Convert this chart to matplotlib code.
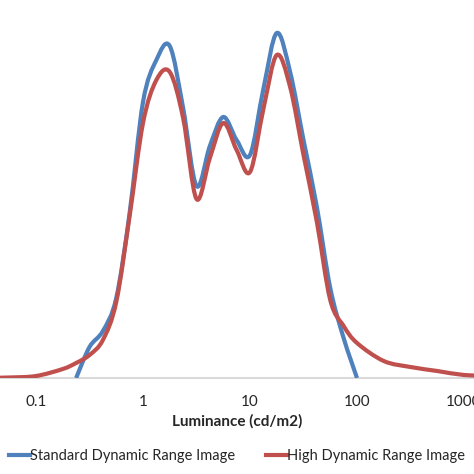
import numpy as np
import matplotlib
matplotlib.use("Agg")
import matplotlib.pyplot as plt
from matplotlib.path import Path
from matplotlib.patches import PathPatch
from matplotlib.lines import Line2D

# ---- data (log10 of luminance bin, relative frequency) ----
sdr_log = [-0.625, -0.5, -0.375, -0.25, -0.125, 0.0, 0.125, 0.25, 0.375, 0.5,
           0.625, 0.75, 0.875, 1.0, 1.125, 1.25, 1.375, 1.5, 1.625, 1.75,
           1.875, 2.0]
sdr_val = [0, 31, 47, 80, 165, 276, 318, 332, 270, 192,
           232, 261, 238, 223, 289, 345, 306, 238, 171, 90,
           40, 0]

hdr_log = [-1.5, -1.25, -1.0, -0.75, -0.625, -0.5, -0.375, -0.25, -0.125, 0.0,
           0.125, 0.25, 0.375, 0.5, 0.625, 0.75, 0.875, 1.0, 1.125, 1.25,
           1.375, 1.5, 1.625, 1.75, 1.875, 2.0, 2.25, 2.5, 2.75, 3.0, 3.25]
hdr_val = [0, 0.5, 2, 9, 15, 23, 38, 76, 162, 255,
           298, 306, 260, 179, 220, 255, 228, 206, 269, 323,
           291, 223, 156, 78, 52, 35, 17, 11, 7, 3, 2]

tick_vals = [0.1, 1, 10, 100, 1000]
tick_labels = ["0.1", "1", "10", "100", "1000"]
series_names = ["Standard Dynamic Range Image", "High Dynamic Range Image"]
colors = ["#4F81BD", "#C0504D"]

plt.rcParams['font.family'] = ['Lato', 'DejaVu Sans']


def smooth_path(lx, vy, t=1/6):
    """Excel-like smoothed line: cubic Bezier segments (Catmull-Rom control points)
    computed in log-x space, returned as a Path in data coordinates."""
    lx = np.asarray(lx, float)
    vy = np.asarray(vy, float)
    n = len(lx)
    verts = [(10 ** lx[0], vy[0])]
    codes = [Path.MOVETO]
    for i in range(n - 1):
        p0 = (lx[i - 1], vy[i - 1]) if i > 0 else (lx[i], vy[i])
        p1 = (lx[i], vy[i])
        p2 = (lx[i + 1], vy[i + 1])
        p3 = (lx[i + 2], vy[i + 2]) if i + 2 < n else (lx[i + 1], vy[i + 1])
        c1 = (p1[0] + (p2[0] - p0[0]) * t, p1[1] + (p2[1] - p0[1]) * t)
        c2 = (p2[0] - (p3[0] - p1[0]) * t, p2[1] - (p3[1] - p1[1]) * t)
        for c in (c1, c2, p2):
            verts.append((10 ** c[0], c[1]))
            codes.append(Path.CURVE4)
    return Path(verts, codes)


fig = plt.figure(figsize=(4.74, 4.74), dpi=100)
ax = fig.add_axes([0, 1 - 378 / 474, 1, 378 / 474])
ax.set_xscale('log')
ax.set_xlim(10 ** (-143 / 107), 10 ** ((474 - 143) / 107))
ax.set_ylim(0, 378)

for lx, vy, col in [(sdr_log, sdr_val, colors[0]), (hdr_log, hdr_val, colors[1])]:
    ax.add_patch(PathPatch(smooth_path(lx, vy), facecolor='none', edgecolor=col,
                           lw=3, capstyle='butt', joinstyle='round', zorder=3))

for s in ['top', 'left', 'right']:
    ax.spines[s].set_visible(False)
ax.spines['bottom'].set_color('#D9D9D9')
ax.spines['bottom'].set_linewidth(1.5)
ax.set_yticks([])
ax.set_xticks(tick_vals)
ax.set_xticklabels(tick_labels, fontsize=11, color='#262626')
ax.xaxis.set_minor_locator(matplotlib.ticker.NullLocator())
ax.tick_params(axis='x', length=0, pad=12)
ax.set_xlabel("Luminance (cd/m2)", fontsize=11, fontweight='bold', color='#262626',
              labelpad=4)

handles = [Line2D([], [], color=c, lw=3) for c in colors]
fig.legend(handles, series_names, loc='center', bbox_to_anchor=(0.5, 1 - 456 / 474),
           ncol=2, frameon=False, fontsize=10.5, handlelength=1.45, handletextpad=0.0,
           columnspacing=2.1, labelcolor='#262626', borderpad=0, borderaxespad=0)

fig.savefig("out.png", dpi=100)
